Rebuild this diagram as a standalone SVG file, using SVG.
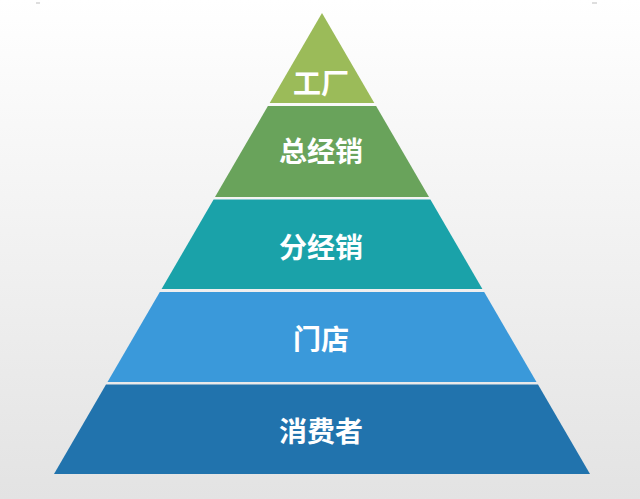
<svg xmlns="http://www.w3.org/2000/svg" width="640" height="499" viewBox="0 0 640 499">
  <defs>
    <linearGradient id="bg" x1="0" y1="0" x2="0" y2="1">
      <stop offset="0" stop-color="#ffffff"/>
      <stop offset="1" stop-color="#e3e3e3"/>
    </linearGradient>
  </defs>
  <style>
    .lbl { font-family: "Noto Sans CJK SC", "Noto Sans", sans-serif; font-size: 28px; font-weight: bold; fill: #ffffff; text-anchor: middle; dominant-baseline: central; }
    .mark { stroke: #c8c8c8; stroke-width: 1.2; }
  </style>
  <rect x="0" y="0" width="640" height="499" fill="url(#bg)"/>
  <line class="mark" x1="36" y1="3" x2="40" y2="3"/>
  <line class="mark" x1="592" y1="3" x2="597" y2="3"/>
  <g id="connectors"></g>
  <g id="layer-factory">
    <polygon points="322,13 374.3,103 269.7,103" fill="#9bbb59"/>
    <text class="lbl" x="321" y="82">工厂</text>
  </g>
  <g id="layer-general-distributor">
    <polygon points="267.9,106 376.1,106 429,197 215,197" fill="#69a35b"/>
    <text class="lbl" x="321" y="150">总经销</text>
  </g>
  <g id="layer-sub-distributor">
    <polygon points="213.6,199.5 430.4,199.5 482.4,289 161.6,289" fill="#1aa2a9"/>
    <text class="lbl" x="321" y="246">分经销</text>
  </g>
  <g id="layer-store">
    <polygon points="159.8,292 484.2,292 536.5,382 107.5,382" fill="#3a99da"/>
    <text class="lbl" x="321" y="338">门店</text>
  </g>
  <g id="layer-consumer">
    <polygon points="106,384.5 538,384.5 590,474 54,474" fill="#2173ad"/>
    <text class="lbl" x="321" y="430">消费者</text>
  </g>
</svg>
